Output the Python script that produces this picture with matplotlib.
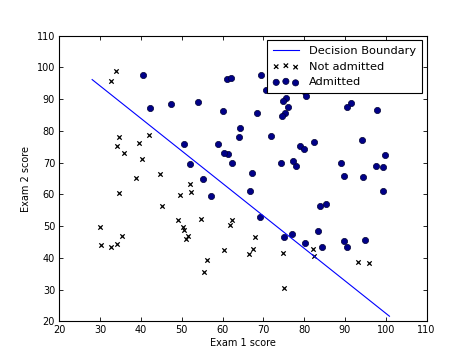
import matplotlib
matplotlib.use("Agg")
import matplotlib.pyplot as plt

# exam scores (ex2data1)
exam1 = [34.62, 30.29, 35.85, 60.18, 79.03, 45.08, 61.11, 75.02, 76.10, 84.43,
         95.86, 75.01, 82.31, 69.36, 39.54, 53.97, 69.07, 67.95, 70.66, 76.98,
         67.37, 89.68, 50.53, 34.21, 77.92, 62.27, 80.19, 93.11, 61.83, 38.79,
         61.38, 85.40, 52.11, 52.05, 40.24, 54.64, 33.92, 64.18, 74.79, 34.18,
         83.90, 51.55, 94.44, 82.37, 51.05, 62.22, 77.19, 97.77, 62.07, 91.56,
         79.94, 99.27, 90.55, 34.52, 50.29, 49.59, 97.65, 32.58, 74.25, 71.80,
         75.40, 35.29, 56.25, 30.06, 44.67, 66.56, 40.46, 49.07, 80.28, 66.75,
         32.72, 64.04, 72.35, 60.46, 58.84, 99.83, 47.26, 50.46, 60.46, 82.23,
         88.91, 94.83, 67.32, 57.24, 80.37, 68.47, 42.08, 75.48, 78.64, 52.35,
         94.09, 90.45, 55.48, 74.49, 89.85, 83.49, 42.26, 99.32, 55.34, 74.78]
exam2 = [78.02, 43.89, 72.90, 86.31, 75.34, 56.32, 96.51, 46.55, 87.42, 43.53,
         38.23, 30.60, 76.48, 97.72, 76.04, 89.21, 52.74, 46.68, 92.93, 47.58,
         42.84, 65.80, 48.86, 44.21, 68.97, 69.95, 44.82, 38.80, 50.26, 65.00,
         72.81, 57.05, 63.13, 69.43, 71.17, 52.21, 98.87, 80.91, 41.57, 75.24,
         56.31, 46.86, 65.57, 40.62, 45.82, 52.06, 70.46, 86.73, 96.77, 88.70,
         74.16, 61.00, 43.39, 60.40, 49.80, 59.81, 68.86, 95.60, 69.82, 78.45,
         85.76, 47.02, 39.26, 49.59, 66.45, 41.09, 97.54, 51.88, 92.12, 60.99,
         43.31, 78.03, 96.23, 73.09, 75.86, 72.37, 88.48, 75.81, 42.51, 42.72,
         69.80, 45.69, 66.59, 59.51, 90.96, 85.59, 78.84, 90.42, 96.65, 60.77,
         77.16, 87.51, 35.57, 84.85, 45.36, 48.38, 87.10, 68.78, 64.93, 89.53]
admitted = [0, 0, 0, 1, 1, 0, 1, 1, 1, 1,
            0, 0, 1, 1, 0, 1, 1, 0, 1, 1,
            0, 1, 0, 0, 1, 1, 1, 0, 0, 0,
            1, 1, 0, 1, 0, 0, 0, 1, 0, 0,
            1, 0, 1, 0, 0, 0, 1, 1, 1, 1,
            1, 1, 1, 0, 0, 0, 1, 0, 1, 1,
            1, 0, 0, 0, 0, 0, 1, 0, 1, 1,
            0, 1, 1, 1, 1, 1, 1, 1, 0, 0,
            1, 1, 1, 1, 1, 1, 0, 1, 1, 0,
            1, 1, 0, 1, 1, 1, 1, 1, 1, 1]

# decision boundary end points
boundary_x = [28.06, 100.9]
boundary_y = [96.17, 21.6]

pos_x = [a for a, y in zip(exam1, admitted) if y == 1]
pos_y = [b for b, y in zip(exam2, admitted) if y == 1]
neg_x = [a for a, y in zip(exam1, admitted) if y == 0]
neg_y = [b for b, y in zip(exam2, admitted) if y == 0]

plt.rcParams['font.family'] = 'DejaVu Sans'
plt.rcParams['font.size'] = 7

fig = plt.figure(figsize=(4.74, 3.57), dpi=100)
ax = fig.add_axes([0.125, 0.1, 0.775, 0.8])

ax.plot(boundary_x, boundary_y, color='blue', lw=0.8, label='Decision Boundary')
ax.scatter(neg_x, neg_y, marker='x', color='black', s=10, lw=0.9, label='Not admitted')
ax.scatter(pos_x, pos_y, marker='o', facecolor='#000088', edgecolor='#000033',
           s=20, lw=0.5, label='Admitted')

ax.set_xlim(20, 110)
ax.set_ylim(20, 110)
ax.set_xlabel('Exam 1 score', labelpad=2)
ax.set_ylabel('Exam 2 score', labelpad=4)
ax.tick_params(direction='in', top=True, right=True, length=3, width=0.6, labelsize=7, pad=3)
for s in ax.spines.values():
    s.set_linewidth(0.8)

leg = ax.legend(loc='upper right', scatterpoints=3, fancybox=False, fontsize=8.2,
                handlelength=2.3, borderpad=0.5, labelspacing=0.5, borderaxespad=0.4,
                handletextpad=0.9, framealpha=1)
leg.get_frame().set_edgecolor('black')
leg.get_frame().set_linewidth(0.8)

fig.savefig('out.png', dpi=100)
